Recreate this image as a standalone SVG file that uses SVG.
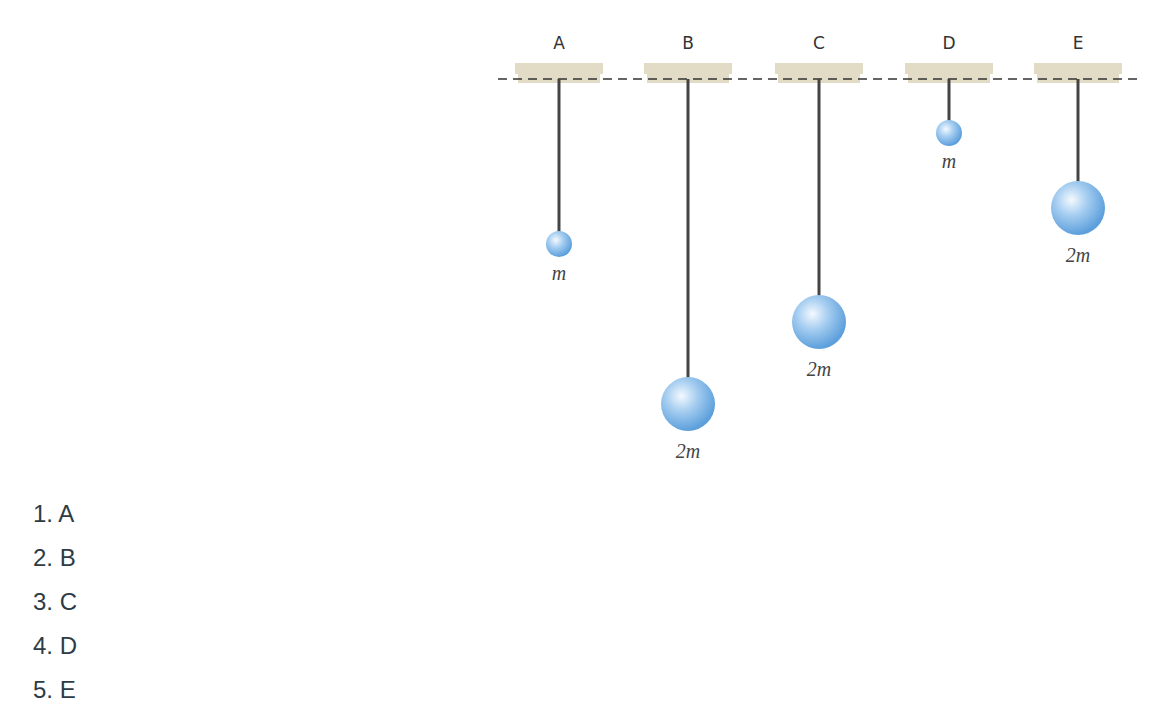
<svg xmlns="http://www.w3.org/2000/svg" width="1174" height="710" viewBox="0 0 1174 710">
<style>
.hd{font-family:"DejaVu Sans",sans-serif;font-size:17px;fill:#333;text-anchor:middle}
.lb{font-family:"Liberation Serif",serif;font-style:italic;font-size:20px;fill:#444;text-anchor:middle}
.str{stroke:#444;stroke-width:3}
.li{font-family:"Liberation Sans",sans-serif;font-size:24px;fill:#2d3b45}
</style>
<defs>
<radialGradient id="g" cx="0.38" cy="0.35" r="0.65">
<stop offset="0" stop-color="#f4f9ff"/><stop offset="0.45" stop-color="#a5cdf0"/><stop offset="1" stop-color="#5c9fdc"/>
</radialGradient>
<g id="bar"><rect x="-44" y="63" width="88" height="11" fill="#e2dbc6"/><rect x="-41" y="74" width="82" height="9" fill="#e2dbc6"/></g>
</defs>
<g id="ceiling">
<use href="#bar" x="559"/><use href="#bar" x="688"/><use href="#bar" x="819"/><use href="#bar" x="949"/><use href="#bar" x="1078"/>
<line x1="498" y1="79" x2="1140" y2="79" stroke="#333" stroke-width="1.5" stroke-dasharray="9,6"/>
</g>
<g id="connectors">
<line class="str" x1="559" y1="79" x2="559" y2="232"/>
<line class="str" x1="688" y1="79" x2="688" y2="378"/>
<line class="str" x1="819" y1="79" x2="819" y2="296"/>
<line class="str" x1="949" y1="79" x2="949" y2="121"/>
<line class="str" x1="1078" y1="79" x2="1078" y2="182"/>
</g>
<g id="A"><text class="hd" x="559" y="49">A</text><circle cx="559" cy="244" r="13" fill="url(#g)"/><text class="lb" x="559" y="280">m</text></g>
<g id="B"><text class="hd" x="688" y="49">B</text><circle cx="688" cy="404" r="27" fill="url(#g)"/><text class="lb" x="688" y="458">2m</text></g>
<g id="C"><text class="hd" x="819" y="49">C</text><circle cx="819" cy="322" r="27" fill="url(#g)"/><text class="lb" x="819" y="376">2m</text></g>
<g id="D"><text class="hd" x="949" y="49">D</text><circle cx="949" cy="133" r="13" fill="url(#g)"/><text class="lb" x="949" y="168">m</text></g>
<g id="E"><text class="hd" x="1078" y="49">E</text><circle cx="1078" cy="208" r="27" fill="url(#g)"/><text class="lb" x="1078" y="262">2m</text></g>
<g id="list">
<text class="li" x="33" y="522">1. A</text>
<text class="li" x="33" y="566">2. B</text>
<text class="li" x="33" y="610">3. C</text>
<text class="li" x="33" y="654">4. D</text>
<text class="li" x="33" y="698">5. E</text>
</g>
</svg>
